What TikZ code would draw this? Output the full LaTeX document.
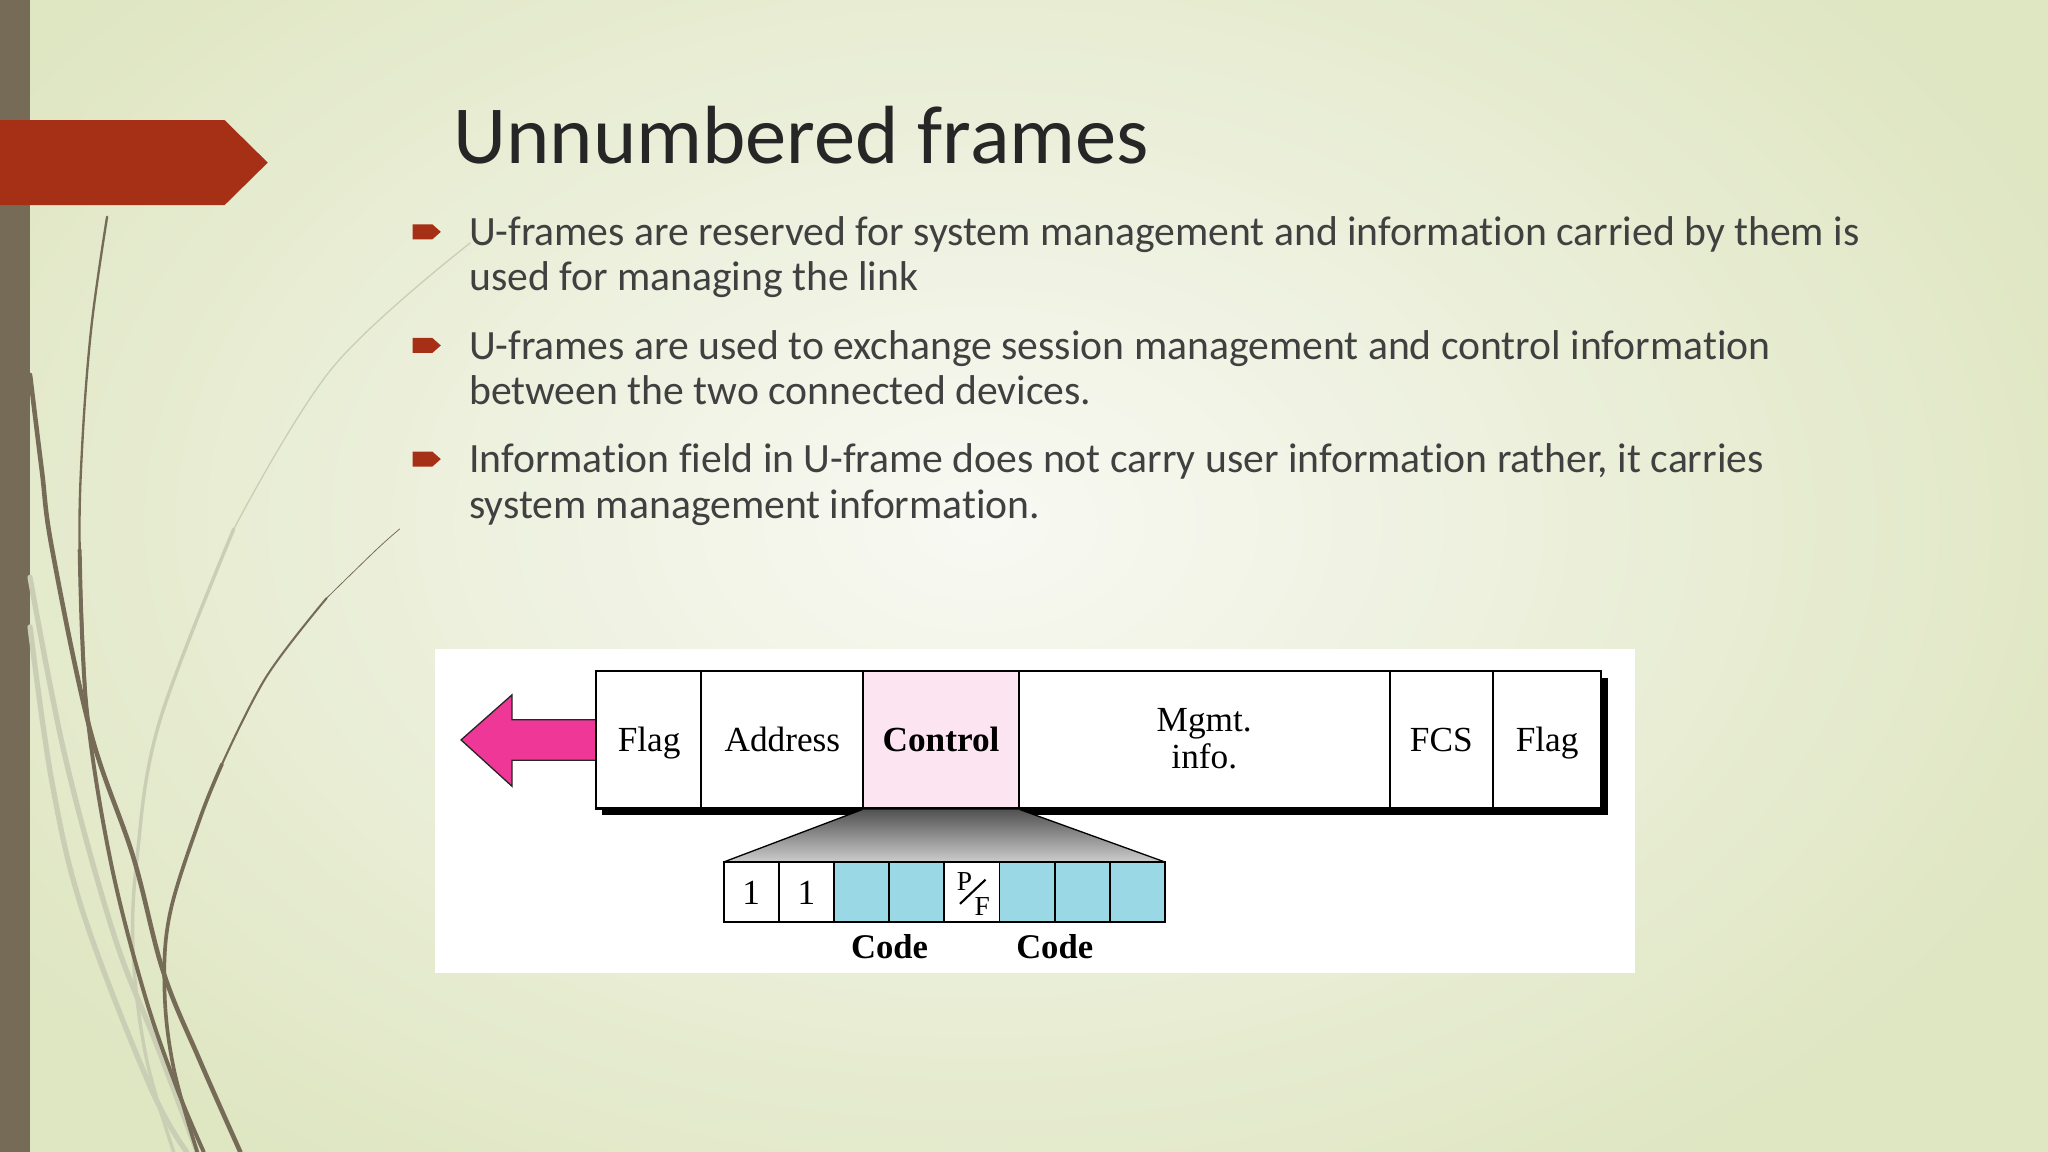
\documentclass[tikz,border=0pt]{standalone}
\usepackage{fontspec}
\setmainfont{Carlito}[Ligatures={NoCommon}]
\newfontfamily\tms{Liberation Serif}
\definecolor{bgout}{HTML}{DFE6C2}
\definecolor{bgin}{HTML}{F8F9F3}
\definecolor{olive}{HTML}{766B57}
\definecolor{oliveL}{HTML}{C9CEB4}
\definecolor{rust}{HTML}{A63016}
\definecolor{titlec}{HTML}{262626}
\definecolor{bodyc}{HTML}{404040}
\definecolor{pinkc}{HTML}{FCE4F1}
\definecolor{bluec}{HTML}{9AD8E6}
\definecolor{arrowc}{HTML}{EE3797}
\begin{document}
\begin{tikzpicture}[x=1pt,y=-1pt,
  bodyline/.style={anchor=base west, inner sep=0pt, text=bodyc, font=\fontsize{31.9}{35}\selectfont},
  fieldbox/.style={draw=black, line width=1.6pt, inner sep=0pt, minimum height=105pt},
  fieldtxt/.style={anchor=base, inner sep=0pt, font=\tms\fontsize{27}{30}\selectfont},
  bitbox/.style={draw=black, line width=1.4pt, inner sep=0pt, minimum width=42.25pt, minimum height=46pt},
  codetxt/.style={anchor=base, inner sep=0pt, font=\tms\bfseries\fontsize{26.5}{30}\selectfont},
  pftxt/.style={anchor=base, inner sep=0pt, font=\tms\fontsize{21}{23}\selectfont},
  curveD/.style={olive, line cap=round},
  curveL/.style={oliveL, line cap=round}
]
\useasboundingbox (0,0) rectangle (1568,882);
% background
\fill[bgout] (0,0) rectangle (1568,882);
\shade[inner color=bgin, outer color=bgout] (-150,-200) rectangle (1650,1000);
\fill[olive] (0,0) rectangle (23,882);
% faint curves
\draw[curveL, line width=1pt] plot[smooth, tension=0.6] coordinates {(360,186) (255,281) (179,405)};
\draw[curveL, line width=2.6pt] plot[smooth, tension=0.6] coordinates {(179,405) (122,553) (105,656) (102,730) (112,810) (133,882)};
\draw[curveL, line width=4pt] plot[smooth, tension=0.6] coordinates {(23,442) (50,580) (87,715) (120,800) (151,882)};
\draw[curveL, line width=4pt] plot[smooth, tension=0.6] coordinates {(23,480) (40,600) (64,700) (115,832) (143,882)};
% dark curves
\draw[curveD, line width=1.8pt] plot[smooth, tension=0.6] coordinates {(82,166) (70,250) (63,340) (61,421) (66,539)};
\draw[curveD, line width=3pt] plot[smooth, tension=0.6] coordinates {(61,421) (66,539) (84,656) (110,759) (135,832) (156,882)};
\draw[curveD, line width=3.5pt] plot[smooth, tension=0.6] coordinates {(23,287) (32,360) (40,421) (69,559) (102,656) (125,744) (153,812) (184,882)};
\draw[curveD, line width=0.6pt] plot[smooth, tension=0.6] coordinates {(306,405) (288,421) (250,458)};
\draw[curveD, line width=1.6pt] plot[smooth, tension=0.6] coordinates {(250,458) (204,518) (170,585)};
\draw[curveD, line width=2.8pt] plot[smooth, tension=0.6] coordinates {(170,585) (153,627) (130,700) (126,759) (133,818) (151,882)};
% banner
\fill[rust] (0,92) -- (172,92) -- (205,124.5) -- (172,157) -- (0,157) -- cycle;
% title
\node[anchor=base west, inner sep=0pt, text=titlec, font=\fontsize{63.2}{70}\selectfont] (title) at (347,125) {Unnumbered frames};
% bullets
\foreach \yy in {177.5,264.5,351.5}{
  \fill[rust] (316,\yy-5.75) -- (331,\yy-5.75) -- (337.5,\yy) -- (331,\yy+5.75) -- (316,\yy+5.75) -- cycle;
}
\node[bodyline] (b1a) at (359,188) {U-frames are reserved for system management and information carried by them is};
\node[bodyline] (b1b) at (359,222.5) {used for managing the link};
\node[bodyline] (b2a) at (359,275) {U-frames are used to exchange session management and control information};
\node[bodyline] (b2b) at (359,310) {between the two connected devices.};
\node[bodyline] (b3a) at (359,362) {Information field in U-frame does not carry user information rather, it carries};
\node[bodyline] (b3b) at (359,397) {system management information.};
% diagram panel
\fill[white] (333,497) rectangle (1252,745);
% arrow
\filldraw[fill=arrowc, draw=black!85, line width=1pt] (458,551) -- (392,551) -- (392,532) -- (353,566.5) -- (392,602) -- (392,582) -- (458,582);
% shadow
\fill[black] (461,519) rectangle (1231,624);
% frame fields
\node[fieldbox, fill=white, minimum width=81pt] (flagA) at (496.5,566.5) {};
\node[fieldbox, fill=white, minimum width=124pt] (addr) at (599,566.5) {};
\node[fieldbox, fill=pinkc, minimum width=119pt] (ctrl) at (720.5,566.5) {};
\node[fieldbox, fill=white, minimum width=284pt] (mgmt) at (922,566.5) {};
\node[fieldbox, fill=white, minimum width=79pt] (fcs) at (1103.5,566.5) {};
\node[fieldbox, fill=white, minimum width=83pt] (flagB) at (1184.5,566.5) {};
\node[fieldtxt] (tflagA) at (497,575.5) {Flag};
\node[fieldtxt] (taddr) at (599,575.5) {Address};
\node[fieldtxt, font=\tms\bfseries\fontsize{27}{30}\selectfont] (tctrl) at (720.5,575.5) {Control};
\node[fieldtxt] (tmgmt1) at (922,560) {Mgmt.};
\node[fieldtxt] (tmgmt2) at (922,588) {info.};
\node[fieldtxt] (tfcs) at (1103.5,575.5) {FCS};
\node[fieldtxt] (tflagB) at (1184.5,575.5) {Flag};
% expansion trapezoid
\shade[top color=black!68, bottom color=black!20] (ctrl.south west) -- (ctrl.south east) -- (892,660) -- (554,660) -- cycle;
\draw[black, line width=1pt] (ctrl.south west) -- (554,660);
\draw[black, line width=1pt] (ctrl.south east) -- (892,660);
% bit row
\node[bitbox, fill=white] (c1) at (575.125,683) {};
\node[bitbox, fill=white] (c2) at (617.375,683) {};
\node[bitbox, fill=bluec] (c3) at (659.625,683) {};
\node[bitbox, fill=bluec] (c4) at (701.875,683) {};
\node[bitbox, fill=white] (c5) at (744.125,683) {};
\node[bitbox, fill=bluec] (c6) at (786.375,683) {};
\node[bitbox, fill=bluec] (c7) at (828.625,683) {};
\node[bitbox, fill=bluec] (c8) at (870.875,683) {};
\node[fieldtxt] (one1) at (575.125,692.5) {1};
\node[fieldtxt] (one2) at (617.375,692.5) {1};
\node[pftxt] (pp) at (738.5,682) {P};
\node[pftxt] (ff) at (752,701) {F};
\draw[black, line width=1.6pt] (735,692) -- (754.5,673.5);
\node[codetxt] (code1) at (681,733.8) {Code};
\node[codetxt] (code2) at (807.5,733.8) {Code};
\end{tikzpicture}
\end{document}
